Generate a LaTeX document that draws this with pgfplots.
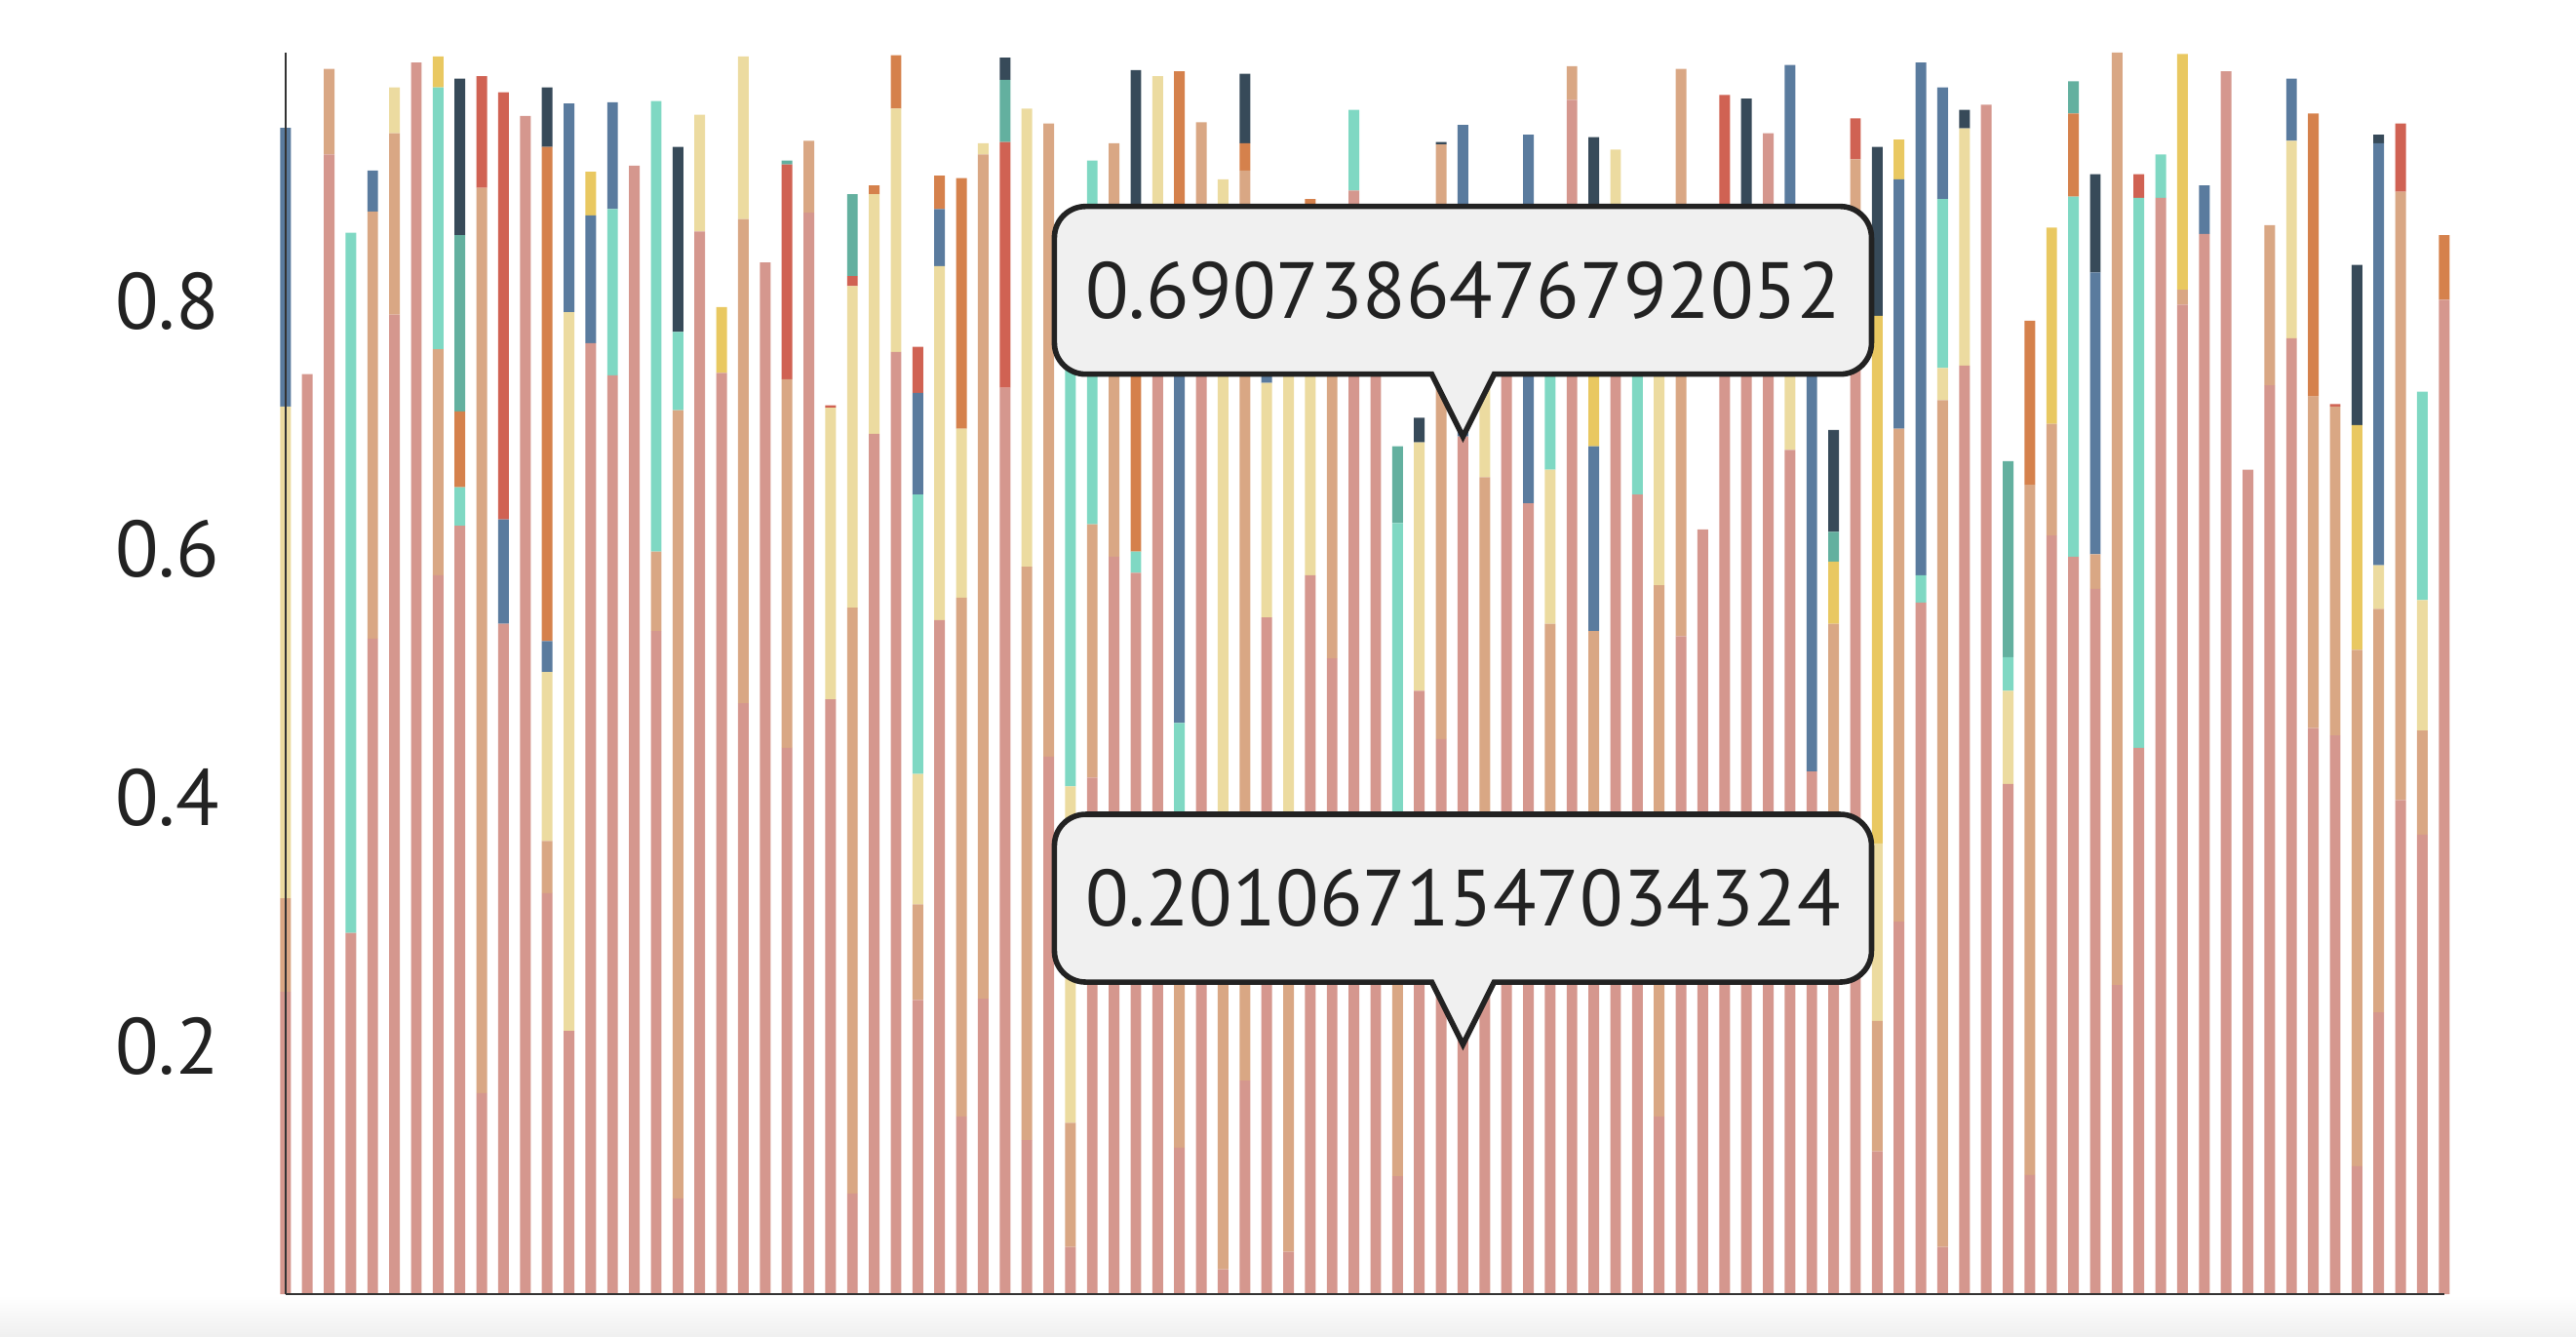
\documentclass[border=0pt]{standalone}
\usepackage{fontspec}
\setmainfont{PT Sans}
\usepackage{pgfplots}
\usepackage{pgfplotstable}
\pgfplotsset{compat=1.18}

\definecolor{cP}{HTML}{D5978E}
\definecolor{cT}{HTML}{D9A784}
\definecolor{cL}{HTML}{ECDBA0}
\definecolor{cC}{HTML}{7FD8C3}
\definecolor{cB}{HTML}{5A7B9E}
\definecolor{cY}{HTML}{E9C861}
\definecolor{cR}{HTML}{D06253}
\definecolor{cO}{HTML}{D5814C}
\definecolor{cG}{HTML}{63B09F}
\definecolor{cD}{HTML}{374A59}
\definecolor{axiscol}{HTML}{333333}
\definecolor{textcol}{HTML}{222222}
\definecolor{tipfill}{HTML}{F0F0F0}

% one row per bar, one column per stacked series
\pgfplotstableread{
x P T L C B Y R O G D
0 0.2435 0.0753 0.3961 0 0.2245 0 0 0 0 0
1 0.741 0 0 0 0 0 0 0 0 0
2 0.918 0.069 0 0 0 0 0 0 0 0
3 0.291 0 0 0.564 0 0 0 0 0 0
4 0.528 0.344 0 0 0.033 0 0 0 0 0
5 0.789 0.146 0.037 0 0 0 0 0 0 0
6 0.992 0 0 0 0 0 0 0 0 0
7 0.579 0.182 0 0.211 0 0.025 0 0 0 0
8 0.619 0 0 0.031 0 0 0 0.061 0.142 0.126
9 0.162 0.729 0 0 0 0 0.090 0 0 0
10 0.540 0 0 0 0.084 0 0.344 0 0 0
11 0.949 0 0 0 0 0 0 0 0 0
12 0.323 0.042 0.136 0 0.025 0 0 0.398 0 0.048
13 0.212 0 0.579 0 0.168 0 0 0 0 0
14 0.766 0 0 0 0.103 0.035 0 0 0 0
15 0.740 0 0 0.134 0.086 0 0 0 0 0
16 0.909 0 0 0 0 0 0 0 0 0
17 0.534 0.064 0 0.363 0 0 0 0 0 0
18 0.077 0.635 0 0.063 0 0 0 0 0 0.149
19 0.856 0 0.094 0 0 0 0 0 0 0
20 0.742 0 0 0 0 0.053 0 0 0 0
21 0.476 0.390 0.131 0 0 0 0 0 0 0
22 0.831 0 0 0 0 0 0 0 0 0
23 0.440 0.297 0 0 0 0 0.173 0 0.003 0
24 0.871 0.058 0 0 0 0 0 0 0 0
25 0.479 0 0.235 0 0 0 0.002 0 0 0
26 0.081 0.472 0.259 0 0 0 0.008 0 0.066 0
27 0.693 0 0.193 0 0 0 0 0.007 0 0
28 0.759 0 0.196 0 0 0 0 0.043 0 0
29 0.237 0.077 0.105 0.225 0.082 0 0.037 0 0 0
30 0.543 0 0.285 0 0.046 0 0 0.027 0 0
31 0.143 0.418 0.136 0 0 0 0 0.202 0 0
32 0.238 0.680 0.009 0 0 0 0 0 0 0
33 0.730 0 0 0 0 0 0.198 0 0.050 0.018
34 0.124 0.462 0.369 0 0 0 0 0 0 0
35 0.433 0.510 0 0 0 0 0 0 0 0
36 0.038 0.100 0.271 0.351 0 0 0 0 0 0
37 0.416 0.204 0 0.293 0 0 0 0 0 0
38 0.594 0.333 0 0 0 0 0 0 0 0
39 0.581 0 0 0.017 0 0 0 0.224 0 0.164
40 0.800 0 0.181 0 0 0 0 0 0 0
41 0.118 0.174 0 0.168 0.356 0 0 0.169 0 0
42 0.780 0.164 0 0 0 0 0 0 0 0
43 0.020 0.272 0.606 0 0 0 0 0 0 0
44 0.172 0.733 0 0 0 0 0 0.022 0 0.056
45 0.545 0 0.189 0 0.067 0 0 0 0 0
46 0.034 0.257 0.479 0 0 0 0 0 0 0
47 0.579 0 0.299 0 0 0 0 0.004 0 0
48 0.512 0.298 0 0 0 0 0 0 0 0
49 0.889 0 0 0.065 0 0 0 0 0 0
50 0.780 0 0 0 0 0 0 0 0 0
51 0.095 0.210 0 0.316 0 0 0 0 0.062 0
52 0.486 0 0.200 0 0 0 0 0 0 0.020
53 0.447 0.479 0 0 0 0 0 0 0 0.002
54 0.6907 0 0 0 0.251 0 0 0 0 0
55 0.304 0.354 0.102 0 0 0 0 0 0 0
56 0.790 0 0 0 0 0 0 0 0 0
57 0.637 0 0 0 0.297 0 0 0 0 0
58 0.304 0.236 0.124 0.126 0 0 0 0 0 0
59 0.962 0.027 0 0 0 0 0 0 0 0
60 0.291 0.243 0 0 0.149 0.113 0 0 0 0.136
61 0.800 0 0.122 0 0 0 0 0 0 0
62 0.644 0 0 0.157 0 0 0 0 0 0
63 0.143 0.428 0.219 0 0 0 0 0 0 0
64 0.530 0.457 0 0 0 0 0 0 0 0
65 0.616 0 0 0 0 0 0 0 0 0
66 0.790 0 0 0 0 0 0.176 0 0 0
67 0.780 0 0 0 0 0 0 0 0 0.183
68 0.935 0 0 0 0 0 0 0 0 0
69 0.680 0 0.083 0 0.227 0 0 0 0 0
70 0.421 0 0 0 0.379 0 0 0 0 0
71 0.304 0.236 0 0 0 0.050 0 0 0.024 0.082
72 0.790 0.124 0 0 0 0 0.033 0 0 0
73 0.115 0.105 0.143 0 0 0.425 0 0 0 0.136
74 0.300 0.397 0 0 0.201 0.032 0 0 0 0
75 0.557 0 0 0.022 0.413 0 0 0 0 0
76 0.038 0.682 0.026 0.136 0.090 0 0 0 0 0
77 0.748 0 0.191 0 0 0 0 0 0 0.015
78 0.958 0 0 0 0 0 0 0 0 0
79 0.411 0 0.075 0.027 0 0 0 0 0.158 0
80 0.096 0.556 0 0 0 0 0 0.132 0 0
81 0.611 0.090 0 0 0 0.158 0 0 0 0
82 0.594 0 0 0.290 0 0 0 0.067 0.026 0
83 0.568 0.028 0 0 0.227 0 0 0 0 0.079
84 0.249 0.751 0 0 0 0 0 0 0 0
85 0.440 0 0 0.443 0 0 0.019 0 0 0
86 0.883 0 0 0.035 0 0 0 0 0 0
87 0.797 0.012 0 0 0 0.190 0 0 0 0
88 0.854 0 0 0 0.039 0 0 0 0 0
89 0.985 0 0 0 0 0 0 0 0 0
90 0.664 0 0 0 0 0 0 0 0 0
91 0.732 0.129 0 0 0 0 0 0 0 0
92 0.770 0 0.159 0 0.050 0 0 0 0 0
93 0.456 0.267 0 0 0 0 0 0.228 0 0
94 0.450 0.265 0 0 0 0 0.002 0 0 0
95 0.103 0.416 0 0 0 0.181 0 0 0 0.129
96 0.227 0.325 0.035 0 0.340 0 0 0 0 0.007
97 0.398 0.490 0 0 0 0 0.055 0 0 0
98 0.370 0.084 0.105 0.168 0 0 0 0 0 0
99 0.801 0 0 0 0 0 0 0.052 0 0
}\bars

% callout whose tip sits on a named point
\newcommand{\tooltip}[2]{%
  \draw[textcol, fill=tipfill, line width=1.4bp, line join=miter]
    (#1) -- ++(8bp,16bp) -- ++(88.75bp,0)
    arc[start angle=270, end angle=360, radius=8bp] -- ++(0,27bp)
    arc[start angle=0, end angle=90, radius=8bp] -- ++(-193.5bp,0)
    arc[start angle=90, end angle=180, radius=8bp] -- ++(0,-27bp)
    arc[start angle=180, end angle=270, radius=8bp] -- ++(88.75bp,0) -- cycle;
  \node[text=textcol, inner sep=0pt, font=\fontsize{20.5}{20.5}\selectfont]
    at ([yshift=37.5bp]#1) {#2};
}

\begin{document}
\begin{tikzpicture}
\begin{axis}[
    scale only axis,
    width=553.5bp, height=318.25bp,
    xmin=0, xmax=99, ymin=0, ymax=1,
    ybar stacked, bar width=0.49,
    clip=false,
    axis on top,
    axis x line*=bottom, axis y line*=left,
    axis line style={draw=axiscol, line width=0.5bp, -},
    xtick=\empty,
    ytick={0.2,0.4,0.6,0.8},
    yticklabels={0.2,0.4,0.6,0.8},
    major tick length=0pt,
    yticklabel style={anchor=east, inner sep=0pt, xshift=-16.8bp,
        text=textcol, font=\fontsize{20.5}{20.5}\selectfont},
]
\addplot[fill=cP, draw=none] table[x=x, y=P] {\bars};
\addplot[fill=cT, draw=none] table[x=x, y=T] {\bars};
\addplot[fill=cL, draw=none] table[x=x, y=L] {\bars};
\addplot[fill=cC, draw=none] table[x=x, y=C] {\bars};
\addplot[fill=cB, draw=none] table[x=x, y=B] {\bars};
\addplot[fill=cY, draw=none] table[x=x, y=Y] {\bars};
\addplot[fill=cR, draw=none] table[x=x, y=R] {\bars};
\addplot[fill=cO, draw=none] table[x=x, y=O] {\bars};
\addplot[fill=cG, draw=none] table[x=x, y=G] {\bars};
\addplot[fill=cD, draw=none] table[x=x, y=D] {\bars};

\coordinate (tipA) at (axis cs:54,0.6907386476792052);
\coordinate (tipB) at (axis cs:54,0.2010671547034324);
\end{axis}

\tooltip{tipA}{0.6907386476792052}
\tooltip{tipB}{0.2010671547034324}

\shade[top color=white, bottom color=black!6]
  ([xshift=-73.2bp, yshift=-0.3bp]current axis.south west)
  rectangle ([xshift=33.8bp, yshift=-10.75bp]current axis.south east);
\pgfresetboundingbox
\path[use as bounding box]
  ([xshift=-73.2bp, yshift=-10.75bp]current axis.south west)
  rectangle ([xshift=33.8bp, yshift=13.5bp]current axis.north east);
\end{tikzpicture}
\end{document}
